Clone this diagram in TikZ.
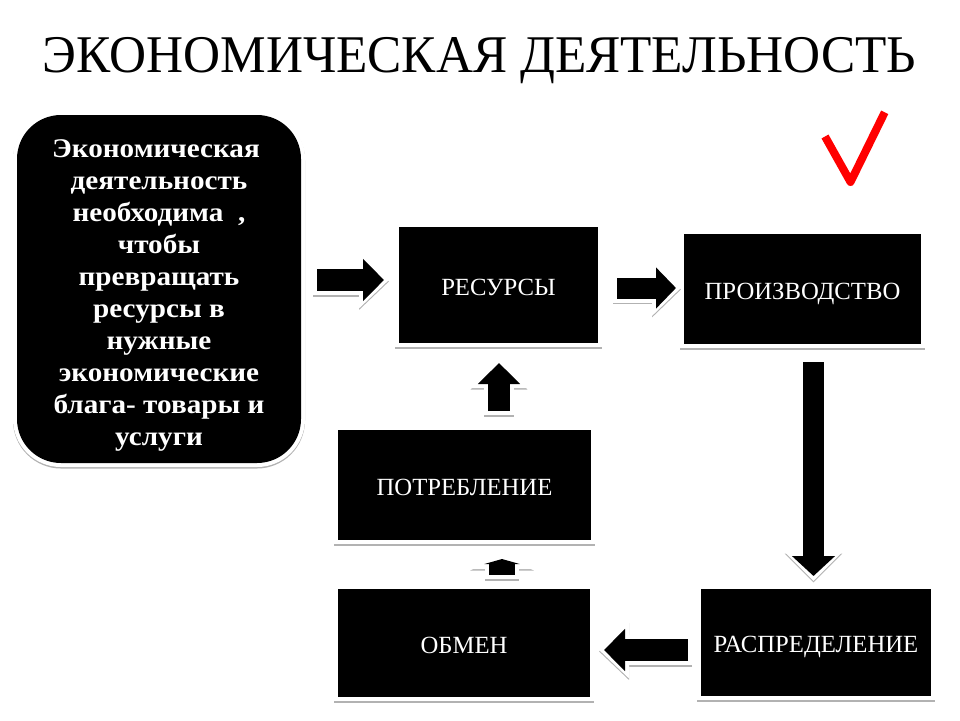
\documentclass[tikz,border=0pt]{standalone}
\usepackage{fontspec}
\setmainfont{Liberation Serif}
\newfontfamily\titlefont[FakeStretch=0.967]{Liberation Serif}
\newfontfamily\infofont[FakeStretch=1.08]{Liberation Serif}
\usetikzlibrary{arrows.meta}

\tikzset{
	boxbase/.style={rectangle,fill=black,text=white,inner sep=0pt,
		preaction={draw=gray!60,fill=gray!60,line width=8pt,transform canvas={yshift=-1.5pt}},
		preaction={draw=white,fill=white,line width=8pt}},
	flowbox/.style={boxbase,text height=20pt,text depth=0pt,font=\fontsize{24.7}{28}\selectfont},
	infobox/.style={boxbase,rounded corners=44pt,align=center,font=\infofont\bfseries\fontsize{27}{32}\selectfont},
	% block arrow: shaft width, head width, head length, width and length of the white head
	blockarrow/.style n args={5}{line width=#1pt,draw=black,-{Triangle[length=#3pt,width=#2pt]},
		preaction={draw=gray!60,line width=#1pt+8pt,shorten <=-4pt,shorten >=-5pt,-{Triangle[length=#5pt,width=#4pt]},transform canvas={yshift=-1.5pt}},
		preaction={draw=white,line width=#1pt+8pt,shorten <=-4pt,shorten >=-5pt,-{Triangle[length=#5pt,width=#4pt]}}}
}

\begin{document}
\begin{tikzpicture}[x=1pt,y=-1pt]
	\useasboundingbox (0,0) rectangle (960,720);

	% title
	\node[anchor=base] (title) at (479.5,72) {\titlefont\fontsize{53}{56}\selectfont ЭКОНОМИЧЕСКАЯ ДЕЯТЕЛЬНОСТЬ};

	% boxes
	\node[infobox,minimum width=284pt,minimum height=348pt] (info) at (159,289)
		{\rule{0pt}{30pt}Экономическая\hspace*{6pt}\\деятельность\hspace*{6pt}\\необходима\ \ ,\\чтобы\\превращать\\ресурсы в\hspace*{3pt}\\нужные\hspace*{7pt}\\экономические\\блага- товары и\\услуги};
	\node[flowbox,minimum width=199pt,minimum height=116pt] (res) at (498.5,285) {РЕСУРСЫ};
	\node[flowbox,minimum width=237pt,minimum height=110pt] (prod) at (802.5,289) {ПРОИЗВОДСТВО};
	\node[flowbox,minimum width=230pt,minimum height=107pt] (dist) at (816,642.5) {РАСПРЕДЕЛЕНИЕ};
	\node[flowbox,minimum width=252pt,minimum height=108pt] (exch) at (464,643) {ОБМЕН};
	\node[flowbox,minimum width=253pt,minimum height=110pt] (cons) at (464.5,485) {ПОТРЕБЛЕНИЕ};

	% free ends of the arrows
	\coordinate (a) at (317,280);
	\coordinate (b) at (384,280);
	\coordinate (c) at (617,288);
	\coordinate (d) at (676,288);

	% arrows
	\draw[blockarrow={22}{41}{21}{55}{30}] (a) -- (b);
	\draw[blockarrow={21}{40}{20}{54}{29}] (c) -- (d);
	\draw[blockarrow={21}{42}{20}{56}{29}] (813.5,362) -- (813.5,576);
	\draw[blockarrow={22}{41}{21}{55}{30}] (688,650) -- (604,650);
	\draw[blockarrow={22}{41}{21}{55}{30}] (499,411) -- (499,363);
	\draw[blockarrow={26}{35}{5}{63}{15}] (502,575) -- (502,559);

	% red check mark
	\coordinate (m1) at (825,136.5);
	\coordinate (m2) at (850.5,182);
	\coordinate (m3) at (884.7,112.3);
	\draw[red,line width=8pt,line join=round] (m1) -- (m2) -- (m3);
\end{tikzpicture}
\end{document}
